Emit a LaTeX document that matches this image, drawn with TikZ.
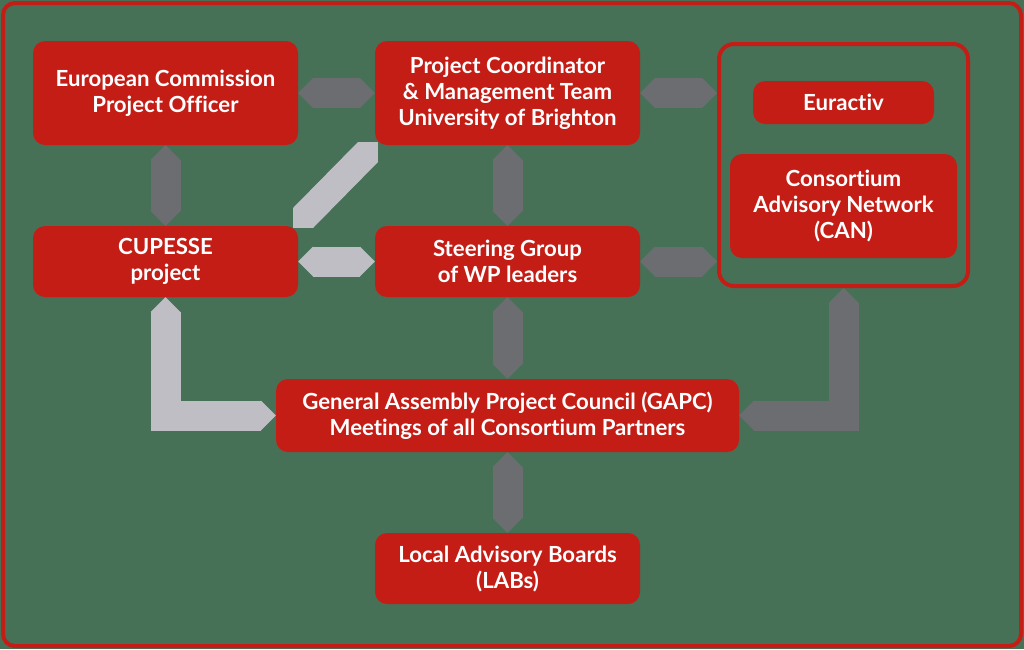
\documentclass[tikz,border=0pt]{standalone}
\usepackage{fontspec}
\setmainfont{Lato}[Ligatures={NoCommon}]
\usetikzlibrary{arrows.meta,calc,backgrounds}
\definecolor{bggreen}{RGB}{71,113,87}
\definecolor{boxred}{RGB}{196,29,22}
\definecolor{darkg}{RGB}{108,109,112}
\definecolor{lightg}{RGB}{190,190,196}
\tikzset{
  rbox/.style={fill=boxred, rounded corners=12pt, inner sep=0pt, align=center,
    text=white, font=\bfseries\fontsize{22.2}{26}\selectfont},
  blk/.style={line width=30pt, line join=miter, line cap=butt,
    {Triangle[length=15pt,width=30pt,line width=0pt]}-{Triangle[length=15pt,width=30pt,line width=0pt]}},
  darkarrow/.style={blk, draw=darkg},
  lightarrow/.style={blk, draw=lightg},
}
\begin{document}
\begin{tikzpicture}[x=1pt,y=-1pt]
\useasboundingbox (0,0) rectangle (1024,649);
% boxes
\node[rbox, minimum width=265pt, minimum height=104pt] (ec) at (165.5,93) {European Commission\\Project Officer};
\node[rbox, minimum width=265pt, minimum height=104pt] (pc) at (507.5,93) {Project Coordinator\\\& Management Team\\University of Brighton};
\node[rbox, minimum width=265pt, minimum height=71pt] (cup) at (165.5,261.5) {CUPESSE\\project};
\node[rbox, minimum width=265pt, minimum height=71pt] (stg) at (507.5,261.5) {Steering Group\\of WP leaders};
\node[draw=boxred, line width=4pt, rounded corners=15pt, inner sep=0pt, minimum width=249pt, minimum height=242pt] (grp) at (843.5,165) {};
\node[rbox, minimum width=181pt, minimum height=43pt] (eur) at (843.5,102.5) {Euractiv};
\node[rbox, minimum width=227pt, minimum height=104pt] (can) at (843.5,206) {Consortium\\Advisory Network\\(CAN)};
\node[rbox, minimum width=463pt, minimum height=73pt] (gapc) at (507.5,415.5) {General Assembly Project Council (GAPC)\\Meetings of all Consortium Partners};
\node[rbox, minimum width=265pt, minimum height=71pt] (labs) at (507.5,568.5) {Local Advisory Boards\\(LABs)};
\begin{scope}[on background layer]
  \fill[bggreen] (0,0) rectangle (1024,649);
  \draw[boxred, line width=4pt, rounded corners=12pt] (3,3) rectangle (1021,646);
  % connectors
  \draw[darkarrow] (ec.east) -- (pc.west);
  \draw[darkarrow] (ec.south) -- (cup.north);
  \draw[lightarrow] (cup.east) -- (stg.west);
  \draw[darkarrow] (pc.south) -- (stg.north);
  \draw[darkarrow] (pc.east) -- (pc.east -| grp.west);
  \draw[darkarrow] (stg.east) -- (stg.east -| grp.west);
  \draw[darkarrow] (stg.south) -- (gapc.north);
  \draw[darkarrow] (gapc.south) -- (labs.north);
  \draw[lightarrow] (cup.south) |- (gapc.west);
  \draw[darkarrow] (grp.south) |- (gapc.east);
  % diagonal band
  \fill[lightg] ($(pc.south west)+(-17,-3)$) -- ($(pc.south west)+(3,-3)$) -- ($(pc.south west)+(3,17)$)
     -- ($(cup.north east)+(15,2)$) -- ($(cup.north east)+(-5,2)$) -- ($(cup.north east)+(-5,-18)$) -- cycle;
\end{scope}
\end{tikzpicture}
\end{document}
